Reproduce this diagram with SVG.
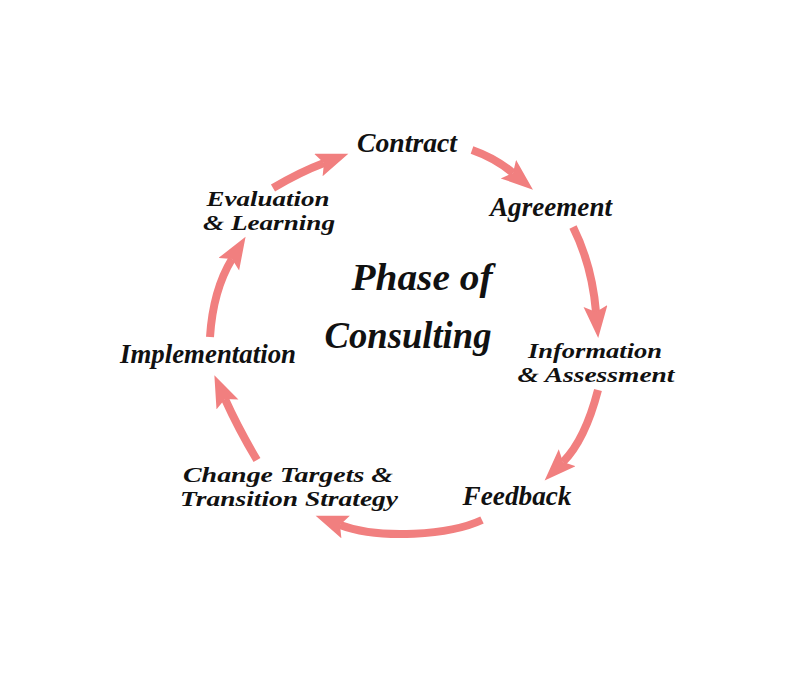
<svg xmlns="http://www.w3.org/2000/svg" width="800" height="687" viewBox="0 0 800 687">
<style>
.lbl{font-family:"Liberation Serif","Times New Roman",serif;font-style:italic;font-weight:bold;font-size:27px;fill:#111;text-anchor:middle}
.two{font-size:22px}
.ttl{font-family:"Liberation Serif","Times New Roman",serif;font-style:italic;font-weight:bold;font-size:37px;fill:#111;text-anchor:middle}
.arr{fill:none;stroke:#f17f7f;stroke-width:8;marker-end:url(#head)}
</style>
<defs>
<marker id="head" markerUnits="userSpaceOnUse" markerWidth="34" markerHeight="26" refX="6" refY="12" orient="auto" viewBox="0 0 34 26">
<path d="M0,0 L32,12 L0,24 L6,12 Z" fill="#f17f7f"/>
</marker>
</defs>
<rect width="800" height="687" fill="#fff"/>
<g id="connectors">
<path class="arr" d="M273,188 Q300,172 324,163"/>
<path class="arr" d="M472,150 Q495,158 513,173"/>
<path class="arr" d="M573,227 Q592,265 596,312"/>
<path class="arr" d="M598,390 Q585,440 563,462"/>
<path class="arr" d="M482,520 C450,535 380,540 340,525"/>
<path class="arr" d="M257,460 Q238,428 225,399"/>
<path class="arr" d="M210,337 Q213,290 232,259"/>
</g>
<g id="title"><text class="ttl" x="422" y="290" textLength="141" lengthAdjust="spacingAndGlyphs">Phase of</text><text class="ttl" x="408" y="348" textLength="167" lengthAdjust="spacingAndGlyphs">Consulting</text></g>
<g id="contract"><text class="lbl" x="407" y="152" textLength="100" lengthAdjust="spacingAndGlyphs">Contract</text></g>
<g id="agreement"><text class="lbl" x="551" y="216" textLength="122" lengthAdjust="spacingAndGlyphs">Agreement</text></g>
<g id="information"><text class="lbl two" x="595" y="358" textLength="134" lengthAdjust="spacingAndGlyphs">Information</text><text class="lbl two" x="596" y="382" textLength="157" lengthAdjust="spacingAndGlyphs">&amp; Assessment</text></g>
<g id="feedback"><text class="lbl" x="517" y="505" textLength="109" lengthAdjust="spacingAndGlyphs">Feedback</text></g>
<g id="change"><text class="lbl two" x="288" y="482" textLength="210" lengthAdjust="spacingAndGlyphs">Change Targets &amp;</text><text class="lbl two" x="289" y="506" textLength="218" lengthAdjust="spacingAndGlyphs">Transition Strategy</text></g>
<g id="implementation"><text class="lbl" x="208" y="363" textLength="176" lengthAdjust="spacingAndGlyphs">Implementation</text></g>
<g id="evaluation"><text class="lbl two" x="268" y="206" textLength="123" lengthAdjust="spacingAndGlyphs">Evaluation</text><text class="lbl two" x="269" y="230" textLength="132" lengthAdjust="spacingAndGlyphs">&amp; Learning</text></g>
</svg>
